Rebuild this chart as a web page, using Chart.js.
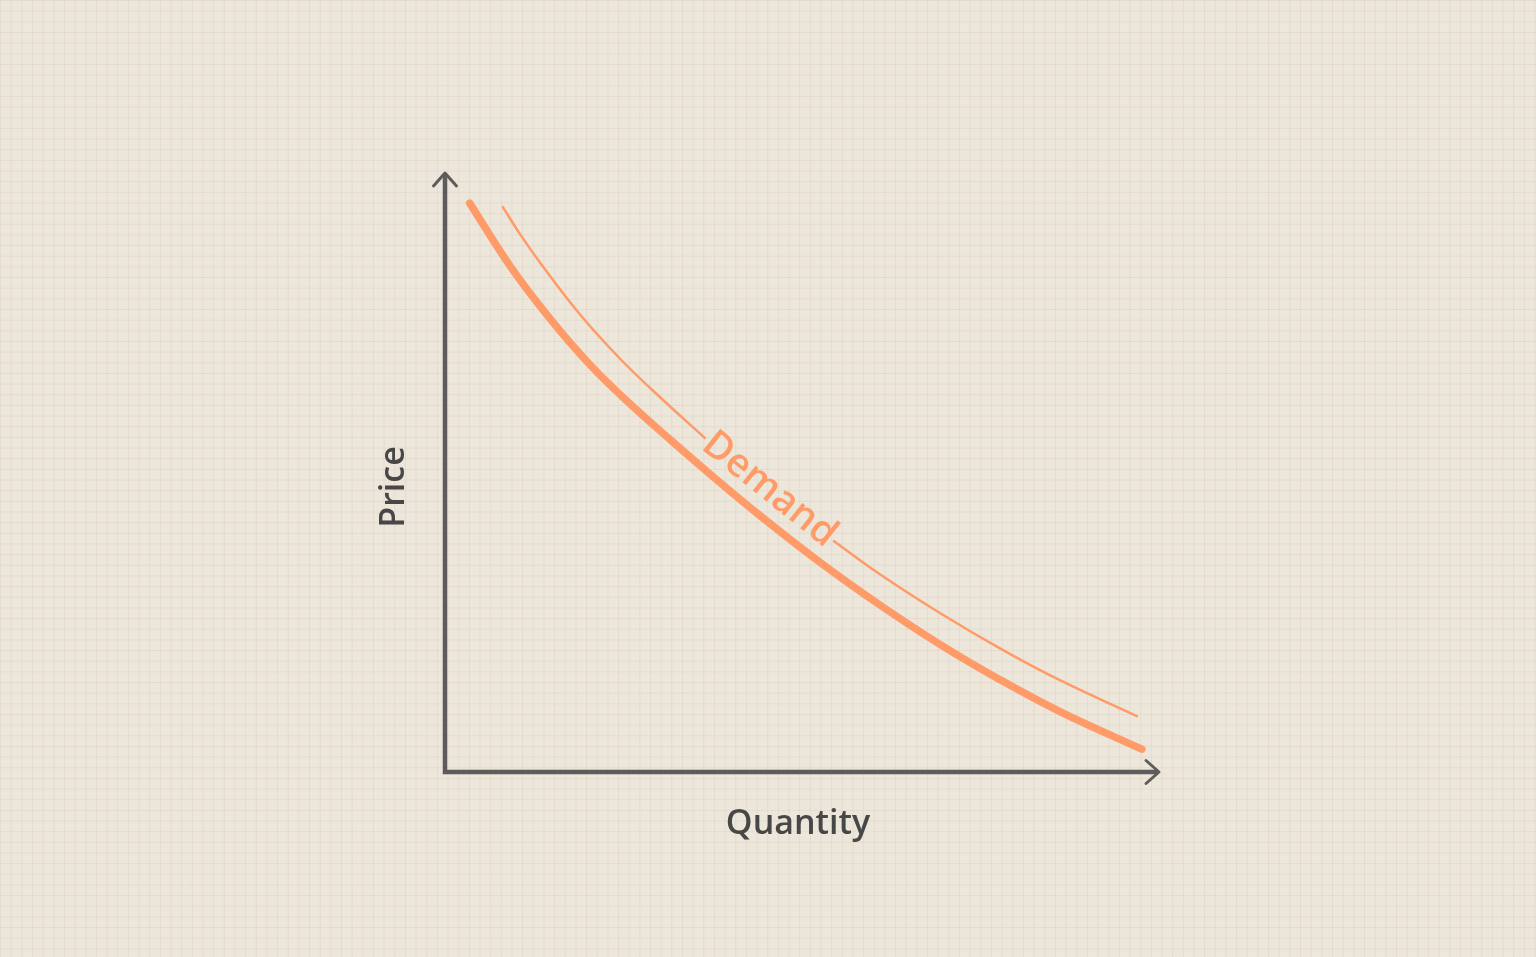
<!DOCTYPE html>
<html>
<head>
<meta charset="utf-8">
<title>Demand curve</title>
<script src="https://cdn.jsdelivr.net/npm/chart.js@4.4.1/dist/chart.umd.min.js"></script>
<style>
  html, body {
    margin: 0;
    padding: 0;
    width: 1536px;
    height: 957px;
    overflow: hidden;
    background-color: #ece6db;
    background-image:
      linear-gradient(rgba(190, 170, 140, 0.17) 1px, transparent 1px),
      linear-gradient(90deg, rgba(190, 170, 140, 0.17) 1px, transparent 1px);
    background-size: 10.67px 10.67px;
  }
  canvas { display: block; }
</style>
</head>
<body>
<canvas id="demandChart" width="1536" height="957"></canvas>
<script>
  // demand curve (thick)
  const demandX = [0.35, 0.92, 1.49, 2.05, 2.62, 3.19, 3.75, 4.46, 5.31, 6.16, 7.01, 7.86, 8.71, 9.87];
  const demandY = [9.98, 8.88, 7.95, 7.15, 6.46, 5.83, 5.23, 4.50, 3.68, 2.93, 2.24, 1.62, 1.06, 0.40];

  // thin guide curve, split round the "Demand" label
  const guideUpperX = [0.82, 1.06, 1.35, 1.91, 2.48, 3.05, 3.68];
  const guideUpperY = [9.91, 9.44, 8.93, 8.03, 7.25, 6.57, 5.86];
  const guideLowerX = [5.51, 6.16, 7.01, 7.86, 8.71, 9.80];
  const guideLowerY = [4.05, 3.47, 2.79, 2.17, 1.61, 0.98];

  const curveLabel = "Demand";
  const xTitle = "Quantity";
  const yTitle = "Price";

  const orange = "#ff9b68";
  const axisGrey = "#5e5c5a";
  const textGrey = "#474747";

  const toPoints = (xs, ys) => xs.map((x, i) => ({ x: x, y: ys[i] }));

  // axes with open arrow heads
  const arrowAxes = {
    id: "arrowAxes",
    beforeDatasetsDraw(chart) {
      const { ctx, chartArea } = chart;
      const left = chartArea.left, bottom = chartArea.bottom;
      const topTip = chartArea.top - 29;
      const rightTip = chartArea.right + 8;
      ctx.save();
      ctx.strokeStyle = axisGrey;
      ctx.lineWidth = 4.5;
      ctx.lineCap = "butt";
      ctx.lineJoin = "miter";
      ctx.beginPath();
      ctx.moveTo(left, topTip + 1);
      ctx.lineTo(left, bottom);
      ctx.lineTo(rightTip - 1, bottom);
      ctx.stroke();

      ctx.lineWidth = 3;
      ctx.lineCap = "round";
      ctx.lineJoin = "round";
      ctx.beginPath();
      ctx.moveTo(left - 11.5, topTip + 13);
      ctx.lineTo(left, topTip);
      ctx.lineTo(left + 11.5, topTip + 13);
      ctx.moveTo(rightTip - 13, bottom - 11.5);
      ctx.lineTo(rightTip, bottom);
      ctx.lineTo(rightTip - 13, bottom + 11.5);
      ctx.stroke();
      ctx.restore();
    }
  };

  // "Demand" written along the gap in the thin curve
  const curveText = {
    id: "curveText",
    afterDatasetsDraw(chart) {
      const { ctx, scales } = chart;
      const n = guideUpperX.length - 1;
      const x1 = scales.x.getPixelForValue(guideUpperX[n]);
      const y1 = scales.y.getPixelForValue(guideUpperY[n]);
      const x2 = scales.x.getPixelForValue(guideLowerX[0]);
      const y2 = scales.y.getPixelForValue(guideLowerY[0]);
      ctx.save();
      ctx.translate((x1 + x2) / 2, (y1 + y2) / 2);
      ctx.rotate(Math.atan2(y2 - y1, x2 - x1));
      ctx.fillStyle = orange;
      ctx.font = "600 39px 'Open Sans', 'Noto Sans', sans-serif";
      ctx.textAlign = "center";
      ctx.textBaseline = "middle";
      ctx.fillText(curveLabel, 0, 0);
      ctx.restore();
    }
  };

  const titleFont = { family: "'Open Sans', 'Noto Sans', sans-serif", size: 34, weight: "600", lineHeight: 1.2 };

  const lineStyle = (width) => ({
    showLine: true,
    borderColor: orange,
    borderWidth: width,
    borderCapStyle: "round",
    borderJoinStyle: "round",
    tension: 0.4,
    pointRadius: 0,
    clip: false
  });

  new Chart(document.getElementById("demandChart"), {
    type: "scatter",
    data: {
      datasets: [
        Object.assign({ data: toPoints(demandX, demandY) }, lineStyle(7.5)),
        Object.assign({ data: toPoints(guideUpperX, guideUpperY) }, lineStyle(2.5)),
        Object.assign({ data: toPoints(guideLowerX, guideLowerY) }, lineStyle(2.5))
      ]
    },
    options: {
      responsive: false,
      animation: false,
      events: [],
      layout: { padding: { left: 373.6, right: 385, top: 202, bottom: 112.6 } },
      plugins: {
        legend: { display: false },
        tooltip: { enabled: false }
      },
      scales: {
        x: {
          type: "linear",
          min: 0,
          max: 10,
          ticks: { display: false },
          grid: { display: false, drawTicks: false, tickLength: 0 },
          border: { display: false },
          title: {
            display: true,
            text: xTitle,
            color: textGrey,
            font: titleFont,
            padding: { top: 31.6, bottom: 0 }
          }
        },
        y: {
          type: "linear",
          min: 0,
          max: 10,
          ticks: { display: false },
          grid: { display: false, drawTicks: false, tickLength: 0 },
          border: { display: false },
          title: {
            display: true,
            text: yTitle,
            color: textGrey,
            font: titleFont,
            padding: { top: 0, bottom: 30.6 }
          }
        }
      }
    },
    plugins: [arrowAxes, curveText]
  });
</script>
</body>
</html>
